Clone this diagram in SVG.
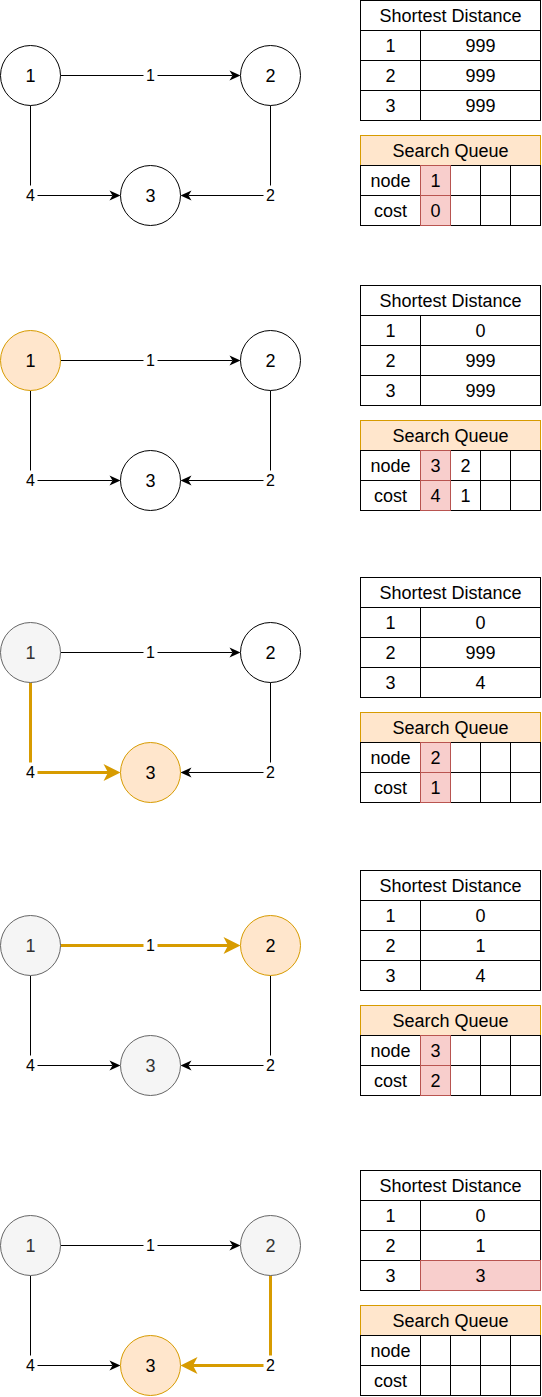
<svg xmlns="http://www.w3.org/2000/svg" width="542" height="1397" viewBox="0 0 542 1397">
<defs>
<style>
text{font-family:"Liberation Sans",Arial,Helvetica,sans-serif;text-anchor:middle;fill:#000}
.t{font-size:18px}
.tg{fill:#333333}
.el{font-size:16px}
.n{fill:#ffffff;stroke:#000000;stroke-width:1}
.no{fill:#ffe6cc;stroke:#d79b00;stroke-width:1}
.ng{fill:#f5f5f5;stroke:#666666;stroke-width:1}
.e{fill:none;stroke:#000000;stroke-width:1;marker-end:url(#ab)}
.eo{fill:none;stroke:#d79b00;stroke-width:3;marker-end:url(#ao)}
.lb{fill:#ffffff;stroke:none}
.c{fill:#ffffff;stroke:#000000;stroke-width:1}
.qh{fill:#ffe6cc;stroke:#d79b00;stroke-width:1}
.r{fill:#f8cecc;stroke:#b85450;stroke-width:1}
</style>
<marker id="ab" markerUnits="userSpaceOnUse" markerWidth="11" markerHeight="10" refX="3" refY="5" orient="auto" overflow="visible">
<path d="M0,0 L11,5 L0,10 L3,5 Z" fill="#000000"/>
</marker>
<marker id="ao" markerUnits="userSpaceOnUse" markerWidth="17" markerHeight="17" refX="4.5" refY="8.5" orient="auto" overflow="visible">
<path d="M0,0 L17,8.5 L0,17 L4.5,8.5 Z" fill="#d79b00"/>
</marker>
</defs>

<!-- Panel 1 -->
<g id="panel1">
<g id="p1-connectors">
<path class="e" d="M60.5,75.5H232.5"/>
<rect class="lb" x="143.5" y="65.5" width="14" height="20"/><text class="el" x="150.5" y="81.1">1</text>
<path class="e" d="M30.5,105.5V195.5H112.5"/>
<rect class="lb" x="23.5" y="185.5" width="14" height="20"/><text class="el" x="30.5" y="201.1">4</text>
<path class="e" d="M270.5,105.5V195.5H188.5"/>
<rect class="lb" x="263.5" y="185.5" width="14" height="20"/><text class="el" x="270.5" y="201.1">2</text>
</g>
<g id="p1-node1"><circle class="n" cx="30.5" cy="75.5" r="30"/><text class="t" x="30.5" y="81.8">1</text></g>
<g id="p1-node2"><circle class="n" cx="270.5" cy="75.5" r="30"/><text class="t" x="270.5" y="81.8">2</text></g>
<g id="p1-node3"><circle class="n" cx="150.5" cy="195.5" r="30"/><text class="t" x="150.5" y="201.8">3</text></g>
<g id="p1-shortest">
<rect class="c" x="360.5" y="0.5" width="180" height="30"/><text class="t" x="450.5" y="21.8">Shortest Distance</text>
<rect class="c" x="360.5" y="30.5" width="60" height="30"/><rect class="c" x="420.5" y="30.5" width="120" height="30"/>
<rect class="c" x="360.5" y="60.5" width="60" height="30"/><rect class="c" x="420.5" y="60.5" width="120" height="30"/>
<rect class="c" x="360.5" y="90.5" width="60" height="30"/><rect class="c" x="420.5" y="90.5" width="120" height="30"/>
<text class="t" x="390.5" y="51.8">1</text><text class="t" x="480.5" y="51.8">999</text>
<text class="t" x="390.5" y="81.8">2</text><text class="t" x="480.5" y="81.8">999</text>
<text class="t" x="390.5" y="111.8">3</text><text class="t" x="480.5" y="111.8">999</text>
</g>
<g id="p1-queue">
<rect class="qh" x="360.5" y="135.5" width="180" height="30"/><text class="t" x="450.5" y="156.8">Search Queue</text>
<rect class="c" x="360.5" y="165.5" width="60" height="30"/><rect class="c" x="450.5" y="165.5" width="30" height="30"/><rect class="c" x="480.5" y="165.5" width="30" height="30"/><rect class="c" x="510.5" y="165.5" width="30" height="30"/>
<rect class="c" x="360.5" y="195.5" width="60" height="30"/><rect class="c" x="450.5" y="195.5" width="30" height="30"/><rect class="c" x="480.5" y="195.5" width="30" height="30"/><rect class="c" x="510.5" y="195.5" width="30" height="30"/>
<rect class="r" x="420.5" y="165.5" width="30" height="30"/><rect class="r" x="420.5" y="195.5" width="30" height="30"/>
<text class="t" x="390.5" y="186.8">node</text><text class="t" x="390.5" y="216.8">cost</text>
<text class="t" x="435.5" y="186.8">1</text><text class="t" x="435.5" y="216.8">0</text>
</g>
</g>

<!-- Panel 2 -->
<g id="panel2" transform="translate(0,285)">
<g id="p2-connectors">
<path class="e" d="M60.5,75.5H232.5"/>
<rect class="lb" x="143.5" y="65.5" width="14" height="20"/><text class="el" x="150.5" y="81.1">1</text>
<path class="e" d="M30.5,105.5V195.5H112.5"/>
<rect class="lb" x="23.5" y="185.5" width="14" height="20"/><text class="el" x="30.5" y="201.1">4</text>
<path class="e" d="M270.5,105.5V195.5H188.5"/>
<rect class="lb" x="263.5" y="185.5" width="14" height="20"/><text class="el" x="270.5" y="201.1">2</text>
</g>
<g id="p2-node1"><circle class="no" cx="30.5" cy="75.5" r="30"/><text class="t" x="30.5" y="81.8">1</text></g>
<g id="p2-node2"><circle class="n" cx="270.5" cy="75.5" r="30"/><text class="t" x="270.5" y="81.8">2</text></g>
<g id="p2-node3"><circle class="n" cx="150.5" cy="195.5" r="30"/><text class="t" x="150.5" y="201.8">3</text></g>
<g id="p2-shortest">
<rect class="c" x="360.5" y="0.5" width="180" height="30"/><text class="t" x="450.5" y="21.8">Shortest Distance</text>
<rect class="c" x="360.5" y="30.5" width="60" height="30"/><rect class="c" x="420.5" y="30.5" width="120" height="30"/>
<rect class="c" x="360.5" y="60.5" width="60" height="30"/><rect class="c" x="420.5" y="60.5" width="120" height="30"/>
<rect class="c" x="360.5" y="90.5" width="60" height="30"/><rect class="c" x="420.5" y="90.5" width="120" height="30"/>
<text class="t" x="390.5" y="51.8">1</text><text class="t" x="480.5" y="51.8">0</text>
<text class="t" x="390.5" y="81.8">2</text><text class="t" x="480.5" y="81.8">999</text>
<text class="t" x="390.5" y="111.8">3</text><text class="t" x="480.5" y="111.8">999</text>
</g>
<g id="p2-queue">
<rect class="qh" x="360.5" y="135.5" width="180" height="30"/><text class="t" x="450.5" y="156.8">Search Queue</text>
<rect class="c" x="360.5" y="165.5" width="60" height="30"/><rect class="c" x="450.5" y="165.5" width="30" height="30"/><rect class="c" x="480.5" y="165.5" width="30" height="30"/><rect class="c" x="510.5" y="165.5" width="30" height="30"/>
<rect class="c" x="360.5" y="195.5" width="60" height="30"/><rect class="c" x="450.5" y="195.5" width="30" height="30"/><rect class="c" x="480.5" y="195.5" width="30" height="30"/><rect class="c" x="510.5" y="195.5" width="30" height="30"/>
<rect class="r" x="420.5" y="165.5" width="30" height="30"/><rect class="r" x="420.5" y="195.5" width="30" height="30"/>
<text class="t" x="390.5" y="186.8">node</text><text class="t" x="390.5" y="216.8">cost</text>
<text class="t" x="435.5" y="186.8">3</text><text class="t" x="435.5" y="216.8">4</text>
<text class="t" x="465.5" y="186.8">2</text><text class="t" x="465.5" y="216.8">1</text>
</g>
</g>

<!-- Panel 3 -->
<g id="panel3" transform="translate(0,577)">
<g id="p3-connectors">
<path class="e" d="M60.5,75.5H232.5"/>
<rect class="lb" x="143.5" y="65.5" width="14" height="20"/><text class="el" x="150.5" y="81.1">1</text>
<path class="eo" d="M30.5,105.5V195.5H108"/>
<rect class="lb" x="23.5" y="185.5" width="14" height="20"/><text class="el" x="30.5" y="201.1">4</text>
<path class="e" d="M270.5,105.5V195.5H188.5"/>
<rect class="lb" x="263.5" y="185.5" width="14" height="20"/><text class="el" x="270.5" y="201.1">2</text>
</g>
<g id="p3-node1"><circle class="ng" cx="30.5" cy="75.5" r="30"/><text class="t tg" x="30.5" y="81.8">1</text></g>
<g id="p3-node2"><circle class="n" cx="270.5" cy="75.5" r="30"/><text class="t" x="270.5" y="81.8">2</text></g>
<g id="p3-node3"><circle class="no" cx="150.5" cy="195.5" r="30"/><text class="t" x="150.5" y="201.8">3</text></g>
<g id="p3-shortest">
<rect class="c" x="360.5" y="0.5" width="180" height="30"/><text class="t" x="450.5" y="21.8">Shortest Distance</text>
<rect class="c" x="360.5" y="30.5" width="60" height="30"/><rect class="c" x="420.5" y="30.5" width="120" height="30"/>
<rect class="c" x="360.5" y="60.5" width="60" height="30"/><rect class="c" x="420.5" y="60.5" width="120" height="30"/>
<rect class="c" x="360.5" y="90.5" width="60" height="30"/><rect class="c" x="420.5" y="90.5" width="120" height="30"/>
<text class="t" x="390.5" y="51.8">1</text><text class="t" x="480.5" y="51.8">0</text>
<text class="t" x="390.5" y="81.8">2</text><text class="t" x="480.5" y="81.8">999</text>
<text class="t" x="390.5" y="111.8">3</text><text class="t" x="480.5" y="111.8">4</text>
</g>
<g id="p3-queue">
<rect class="qh" x="360.5" y="135.5" width="180" height="30"/><text class="t" x="450.5" y="156.8">Search Queue</text>
<rect class="c" x="360.5" y="165.5" width="60" height="30"/><rect class="c" x="450.5" y="165.5" width="30" height="30"/><rect class="c" x="480.5" y="165.5" width="30" height="30"/><rect class="c" x="510.5" y="165.5" width="30" height="30"/>
<rect class="c" x="360.5" y="195.5" width="60" height="30"/><rect class="c" x="450.5" y="195.5" width="30" height="30"/><rect class="c" x="480.5" y="195.5" width="30" height="30"/><rect class="c" x="510.5" y="195.5" width="30" height="30"/>
<rect class="r" x="420.5" y="165.5" width="30" height="30"/><rect class="r" x="420.5" y="195.5" width="30" height="30"/>
<text class="t" x="390.5" y="186.8">node</text><text class="t" x="390.5" y="216.8">cost</text>
<text class="t" x="435.5" y="186.8">2</text><text class="t" x="435.5" y="216.8">1</text>
</g>
</g>

<!-- Panel 4 -->
<g id="panel4" transform="translate(0,870)">
<g id="p4-connectors">
<path class="eo" d="M60.5,75.5H228"/>
<rect class="lb" x="143.5" y="65.5" width="14" height="20"/><text class="el" x="150.5" y="81.1">1</text>
<path class="e" d="M30.5,105.5V195.5H112.5"/>
<rect class="lb" x="23.5" y="185.5" width="14" height="20"/><text class="el" x="30.5" y="201.1">4</text>
<path class="e" d="M270.5,105.5V195.5H188.5"/>
<rect class="lb" x="263.5" y="185.5" width="14" height="20"/><text class="el" x="270.5" y="201.1">2</text>
</g>
<g id="p4-node1"><circle class="ng" cx="30.5" cy="75.5" r="30"/><text class="t tg" x="30.5" y="81.8">1</text></g>
<g id="p4-node2"><circle class="no" cx="270.5" cy="75.5" r="30"/><text class="t" x="270.5" y="81.8">2</text></g>
<g id="p4-node3"><circle class="ng" cx="150.5" cy="195.5" r="30"/><text class="t tg" x="150.5" y="201.8">3</text></g>
<g id="p4-shortest">
<rect class="c" x="360.5" y="0.5" width="180" height="30"/><text class="t" x="450.5" y="21.8">Shortest Distance</text>
<rect class="c" x="360.5" y="30.5" width="60" height="30"/><rect class="c" x="420.5" y="30.5" width="120" height="30"/>
<rect class="c" x="360.5" y="60.5" width="60" height="30"/><rect class="c" x="420.5" y="60.5" width="120" height="30"/>
<rect class="c" x="360.5" y="90.5" width="60" height="30"/><rect class="c" x="420.5" y="90.5" width="120" height="30"/>
<text class="t" x="390.5" y="51.8">1</text><text class="t" x="480.5" y="51.8">0</text>
<text class="t" x="390.5" y="81.8">2</text><text class="t" x="480.5" y="81.8">1</text>
<text class="t" x="390.5" y="111.8">3</text><text class="t" x="480.5" y="111.8">4</text>
</g>
<g id="p4-queue">
<rect class="qh" x="360.5" y="135.5" width="180" height="30"/><text class="t" x="450.5" y="156.8">Search Queue</text>
<rect class="c" x="360.5" y="165.5" width="60" height="30"/><rect class="c" x="450.5" y="165.5" width="30" height="30"/><rect class="c" x="480.5" y="165.5" width="30" height="30"/><rect class="c" x="510.5" y="165.5" width="30" height="30"/>
<rect class="c" x="360.5" y="195.5" width="60" height="30"/><rect class="c" x="450.5" y="195.5" width="30" height="30"/><rect class="c" x="480.5" y="195.5" width="30" height="30"/><rect class="c" x="510.5" y="195.5" width="30" height="30"/>
<rect class="r" x="420.5" y="165.5" width="30" height="30"/><rect class="r" x="420.5" y="195.5" width="30" height="30"/>
<text class="t" x="390.5" y="186.8">node</text><text class="t" x="390.5" y="216.8">cost</text>
<text class="t" x="435.5" y="186.8">3</text><text class="t" x="435.5" y="216.8">2</text>
</g>
</g>

<!-- Panel 5 -->
<g id="panel5" transform="translate(0,1170)">
<g id="p5-connectors">
<path class="e" d="M60.5,75.5H232.5"/>
<rect class="lb" x="143.5" y="65.5" width="14" height="20"/><text class="el" x="150.5" y="81.1">1</text>
<path class="e" d="M30.5,105.5V195.5H112.5"/>
<rect class="lb" x="23.5" y="185.5" width="14" height="20"/><text class="el" x="30.5" y="201.1">4</text>
<path class="eo" d="M270.5,105.5V195.5H193"/>
<rect class="lb" x="263.5" y="185.5" width="14" height="20"/><text class="el" x="270.5" y="201.1">2</text>
</g>
<g id="p5-node1"><circle class="ng" cx="30.5" cy="75.5" r="30"/><text class="t tg" x="30.5" y="81.8">1</text></g>
<g id="p5-node2"><circle class="ng" cx="270.5" cy="75.5" r="30"/><text class="t tg" x="270.5" y="81.8">2</text></g>
<g id="p5-node3"><circle class="no" cx="150.5" cy="195.5" r="30"/><text class="t" x="150.5" y="201.8">3</text></g>
<g id="p5-shortest">
<rect class="c" x="360.5" y="0.5" width="180" height="30"/><text class="t" x="450.5" y="21.8">Shortest Distance</text>
<rect class="c" x="360.5" y="30.5" width="60" height="30"/><rect class="c" x="420.5" y="30.5" width="120" height="30"/>
<rect class="c" x="360.5" y="60.5" width="60" height="30"/><rect class="c" x="420.5" y="60.5" width="120" height="30"/>
<rect class="c" x="360.5" y="90.5" width="60" height="30"/><rect class="r" x="420.5" y="90.5" width="120" height="30"/>
<text class="t" x="390.5" y="51.8">1</text><text class="t" x="480.5" y="51.8">0</text>
<text class="t" x="390.5" y="81.8">2</text><text class="t" x="480.5" y="81.8">1</text>
<text class="t" x="390.5" y="111.8">3</text><text class="t" x="480.5" y="111.8">3</text>
</g>
<g id="p5-queue">
<rect class="qh" x="360.5" y="135.5" width="180" height="30"/><text class="t" x="450.5" y="156.8">Search Queue</text>
<rect class="c" x="360.5" y="165.5" width="60" height="30"/><rect class="c" x="420.5" y="165.5" width="30" height="30"/><rect class="c" x="450.5" y="165.5" width="30" height="30"/><rect class="c" x="480.5" y="165.5" width="30" height="30"/><rect class="c" x="510.5" y="165.5" width="30" height="30"/>
<rect class="c" x="360.5" y="195.5" width="60" height="30"/><rect class="c" x="420.5" y="195.5" width="30" height="30"/><rect class="c" x="450.5" y="195.5" width="30" height="30"/><rect class="c" x="480.5" y="195.5" width="30" height="30"/><rect class="c" x="510.5" y="195.5" width="30" height="30"/>
<text class="t" x="390.5" y="186.8">node</text><text class="t" x="390.5" y="216.8">cost</text>
</g>
</g>
</svg>
